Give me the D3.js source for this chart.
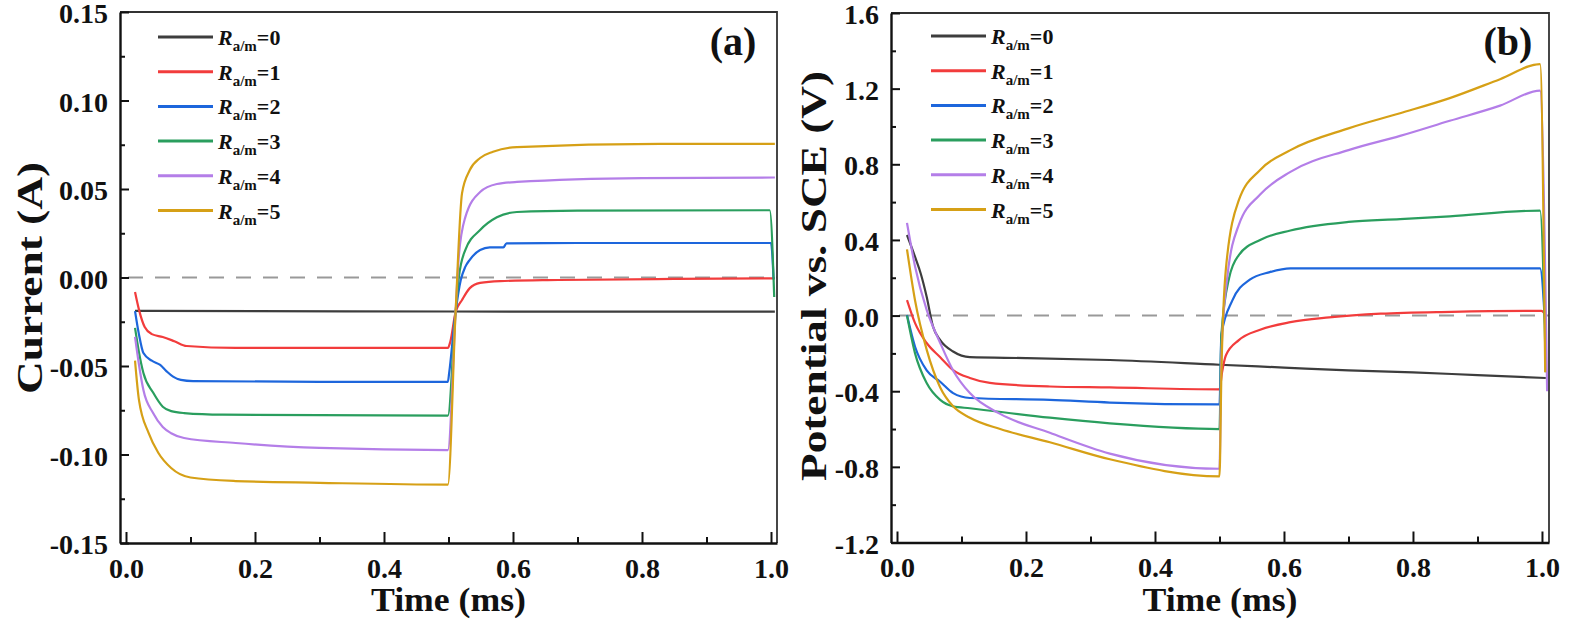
<!DOCTYPE html>
<html>
<head>
<meta charset="utf-8">
<script src="https://cdn.jsdelivr.net/npm/d3@7"></script>
<style>
  body { margin: 0; background: #fff; }
  svg text { font-family: "Liberation Serif", "Times New Roman", serif; font-weight: bold; fill: #111; }
</style>
</head>
<body>
<svg id="chart" width="1570" height="626"></svg>
<script>
// ---- data ----
const seriesLabels = ["0", "1", "2", "3", "4", "5"];
const seriesColors = ["#3d3d3d", "#f23c3c", "#1d66dc", "#2a9e5e", "#b47ee8", "#d6a016"];

// panel (a): current (A) vs time (ms)
const curA0 = [[0.014,-0.0188],[0.2,-0.019],[0.5,-0.0192],[0.7,-0.0193],[1.006,-0.0193]];
const curA1 = [[0.014,-0.0082],[0.02,-0.018],[0.029,-0.028],[0.04,-0.032],[0.057,-0.0336],[0.075,-0.036],[0.094,-0.0387],[0.17,-0.0398],[0.3,-0.0398],[0.499,-0.0398],[0.503,-0.036],[0.511,-0.0195],[0.521,-0.0127],[0.533,-0.006],[0.549,-0.003],[0.58,-0.002],[0.67,-0.0014],[0.85,-0.0008],[1.006,-0.0005]];
const curA2 = [[0.014,-0.019],[0.02,-0.032],[0.027,-0.0427],[0.04,-0.047],[0.053,-0.0494],[0.063,-0.053],[0.073,-0.056],[0.085,-0.0578],[0.104,-0.0585],[0.3,-0.059],[0.499,-0.059],[0.501,-0.054],[0.511,-0.0195],[0.519,-0.0014],[0.526,0.006],[0.533,0.01],[0.549,0.0155],[0.564,0.017],[0.585,0.017],[0.59,0.0193],[0.7,0.0195],[1.0,0.0195],[1.004,-0.001]];
const curA3 = [[0.014,-0.0285],[0.02,-0.042],[0.027,-0.054],[0.042,-0.065],[0.057,-0.073],[0.07,-0.0755],[0.09,-0.0766],[0.15,-0.0775],[0.499,-0.078],[0.511,-0.0195],[0.516,0.0],[0.526,0.0155],[0.549,0.0268],[0.575,0.034],[0.606,0.037],[0.7,0.0378],[0.998,0.038],[1.005,-0.011]];
const curA4 = [[0.014,-0.0336],[0.02,-0.049],[0.027,-0.0636],[0.042,-0.0766],[0.057,-0.0845],[0.07,-0.088],[0.09,-0.0907],[0.17,-0.0935],[0.3,-0.0963],[0.499,-0.0975],[0.511,-0.0195],[0.516,0.012],[0.526,0.034],[0.549,0.0483],[0.575,0.0528],[0.606,0.054],[0.8,0.0562],[1.006,0.0565]];
const curA5 = [[0.014,-0.047],[0.02,-0.069],[0.035,-0.0878],[0.05,-0.099],[0.07,-0.1076],[0.1,-0.113],[0.17,-0.115],[0.3,-0.116],[0.499,-0.117],[0.511,-0.0195],[0.521,0.0477],[0.533,0.0607],[0.549,0.0675],[0.569,0.071],[0.606,0.0737],[0.828,0.0755],[1.006,0.0755]];

// panel (b): potential vs. SCE (V) vs time (ms)
const curB0 = [[0.0155,0.426],[0.028,0.31],[0.037,0.22],[0.046,0.1],[0.056,-0.06],[0.067,-0.13],[0.087,-0.19],[0.113,-0.22],[0.2,-0.225],[0.33,-0.235],[0.5,-0.26],[0.6,-0.275],[0.7,-0.29],[0.8,-0.3],[0.9,-0.315],[1.006,-0.33]];
const curB1 = [[0.0155,0.082],[0.028,-0.04],[0.046,-0.145],[0.067,-0.22],[0.087,-0.288],[0.113,-0.33],[0.144,-0.356],[0.237,-0.375],[0.33,-0.38],[0.5,-0.39],[0.504,-0.3],[0.51,-0.21],[0.53,-0.13],[0.563,-0.075],[0.61,-0.035],[0.67,-0.01],[0.75,0.01],[0.86,0.02],[0.999,0.025],[1.006,0.0]];
const curB2 = [[0.0155,0.003],[0.028,-0.165],[0.046,-0.29],[0.067,-0.35],[0.087,-0.41],[0.113,-0.436],[0.237,-0.446],[0.33,-0.46],[0.5,-0.47],[0.503,-0.1],[0.52,0.08],[0.547,0.19],[0.578,0.23],[0.61,0.25],[0.8,0.25],[0.997,0.25],[1.006,-0.12]];
const curB3 = [[0.0155,0.0],[0.028,-0.2],[0.046,-0.357],[0.067,-0.446],[0.087,-0.48],[0.113,-0.49],[0.237,-0.54],[0.33,-0.57],[0.5,-0.6],[0.503,-0.1],[0.515,0.2],[0.53,0.32],[0.563,0.4],[0.61,0.45],[0.7,0.495],[0.78,0.51],[0.857,0.525],[0.997,0.555],[1.006,-0.3]];
const curB4 = [[0.0155,0.49],[0.028,0.26],[0.046,0.03],[0.067,-0.145],[0.087,-0.29],[0.113,-0.41],[0.16,-0.52],[0.237,-0.62],[0.33,-0.73],[0.5,-0.81],[0.503,-0.2],[0.512,0.2],[0.53,0.48],[0.563,0.64],[0.61,0.76],[0.7,0.875],[0.78,0.95],[0.857,1.03],[0.935,1.11],[0.997,1.19],[1.008,-0.4]];
const curB5 = [[0.0155,0.35],[0.028,0.08],[0.046,-0.18],[0.067,-0.38],[0.087,-0.48],[0.113,-0.54],[0.16,-0.6],[0.237,-0.67],[0.33,-0.76],[0.5,-0.85],[0.503,-0.3],[0.51,0.25],[0.53,0.61],[0.563,0.77],[0.61,0.875],[0.7,0.99],[0.78,1.07],[0.857,1.15],[0.935,1.25],[0.997,1.33],[1.005,-0.3]];

const xMajor = [0, 0.2, 0.4, 0.6, 0.8, 1.0];
const xMinor = [0.1, 0.3, 0.5, 0.7, 0.9];
const yMajorA = [-0.15, -0.10, -0.05, 0.00, 0.05, 0.10, 0.15];
const yMinorA = [-0.125, -0.075, -0.025, 0.025, 0.075, 0.125];
const yMajorB = [-1.2, -0.8, -0.4, 0.0, 0.4, 0.8, 1.2, 1.6];
const yMinorB = [-1.0, -0.6, -0.2, 0.2, 0.6, 1.0, 1.4];

const svg = d3.select("#chart");

// plain hyphen for negatives, as in the original figure
const fmt = spec => v => d3.format(spec)(v).replace("\u2212", "-");

function drawPanel(cfg) {
  const x = d3.scaleLinear().domain(cfg.xDomain).range([cfg.left, cfg.right]);
  const y = d3.scaleLinear().domain(cfg.yDomain).range([cfg.bottom, cfg.top]);
  const g = svg.append("g");

  g.append("clipPath").attr("id", cfg.id + "clip")
    .append("rect")
    .attr("x", cfg.left).attr("y", cfg.top)
    .attr("width", cfg.right - cfg.left).attr("height", cfg.bottom - cfg.top);

  // zero reference line
  g.append("line")
    .attr("x1", cfg.left + 8).attr("x2", cfg.right)
    .attr("y1", y(0)).attr("y2", y(0))
    .attr("stroke", "#999").attr("stroke-width", 2)
    .attr("stroke-dasharray", "15,12");

  // curves
  const line = d3.line().x(d => x(d[0])).y(d => y(d[1])).curve(d3.curveMonotoneX);
  g.append("g").attr("clip-path", `url(#${cfg.id}clip)`)
    .selectAll("path")
    .data(cfg.series)
    .join("path")
    .attr("d", line)
    .attr("fill", "none")
    .attr("stroke", (d, i) => seriesColors[i])
    .attr("stroke-width", 2.2)
    .attr("stroke-linejoin", "round");

  // frame (top/right)
  g.append("path")
    .attr("d", `M${cfg.left},${cfg.top}H${cfg.right}V${cfg.bottom}`)
    .attr("fill", "none").attr("stroke", "#333").attr("stroke-width", 1.8);

  // x axis
  const xAx = g.append("g").attr("transform", `translate(0,${cfg.bottom})`)
    .call(d3.axisBottom(x).tickValues(xMajor).tickFormat(fmt(".1f"))
      .tickSizeInner(-11).tickSizeOuter(0).tickPadding(15));
  g.append("g").attr("transform", `translate(0,${cfg.bottom})`)
    .call(d3.axisBottom(x).tickValues(xMinor).tickFormat("").tickSizeInner(-6).tickSizeOuter(0))
    .select(".domain").remove();

  // y axis
  const yAx = g.append("g").attr("transform", `translate(${cfg.left},0)`)
    .call(d3.axisLeft(y).tickValues(cfg.yMajor).tickFormat(fmt(cfg.yFmt))
      .tickSizeInner(-9).tickSizeOuter(0).tickPadding(12));
  g.append("g").attr("transform", `translate(${cfg.left},0)`)
    .call(d3.axisLeft(y).tickValues(cfg.yMinor).tickFormat("").tickSizeInner(-5).tickSizeOuter(0))
    .select(".domain").remove();
  yAx.selectAll("text").attr("dy", "0.38em");

  g.selectAll(".tick line").attr("stroke", "#111").attr("stroke-width", 2);
  g.selectAll(".domain").attr("stroke", "#111").attr("stroke-width", 2.4);
  [xAx, yAx].forEach(a => a.selectAll("text")
    .style("font-family", '"Liberation Serif", serif').style("font-weight", "bold")
    .style("font-size", "28px").attr("fill", "#111"));

  // axis titles
  g.append("text")
    .attr("x", (cfg.left + cfg.right) / 2).attr("y", 611)
    .attr("text-anchor", "middle").attr("font-size", 33)
    .attr("textLength", 155).attr("lengthAdjust", "spacingAndGlyphs")
    .text("Time (ms)");
  g.append("text")
    .attr("transform", `translate(${cfg.yTitleX},${cfg.yTitleY}) rotate(-90)`)
    .attr("text-anchor", "middle").attr("font-size", 36)
    .attr("textLength", cfg.yTitleLen).attr("lengthAdjust", "spacingAndGlyphs")
    .text(cfg.yTitle);

  // panel tag
  g.append("text")
    .attr("x", cfg.tagX).attr("y", 55)
    .attr("text-anchor", "middle").attr("font-size", 40)
    .text(cfg.tag);

  // legend
  const leg = g.append("g");
  seriesLabels.forEach((lab, i) => {
    const ry = cfg.legY0 + i * 34.7;
    leg.append("line")
      .attr("x1", cfg.legX).attr("x2", cfg.legX + 55)
      .attr("y1", ry).attr("y2", ry)
      .attr("stroke", seriesColors[i]).attr("stroke-width", 3);
    const t = leg.append("text").attr("x", cfg.legX + 60).attr("y", ry + 8).attr("font-size", 22);
    t.append("tspan").attr("font-style", "italic").text("R");
    t.append("tspan").attr("font-size", 15).attr("dy", 6).text("a/m");
    t.append("tspan").attr("dy", -6).text("=" + lab);
  });
}

drawPanel({
  id: "a", left: 120, right: 777, top: 12, bottom: 543,
  xDomain: [-0.0093, 1.0093], yDomain: [-0.15, 0.15],
  yMajor: yMajorA, yMinor: yMinorA, yFmt: ".2f",
  series: [curA0, curA1, curA2, curA3, curA4, curA5],
  yTitle: "Current (A)", yTitleX: 42, yTitleY: 278, yTitleLen: 232,
  tag: "(a)", tagX: 733, legX: 158, legY0: 37
});

drawPanel({
  id: "b", left: 891, right: 1549, top: 13, bottom: 542.5,
  xDomain: [-0.0093, 1.0109], yDomain: [-1.2, 1.6],
  yMajor: yMajorB, yMinor: yMinorB, yFmt: ".1f",
  series: [curB0, curB1, curB2, curB3, curB4, curB5],
  yTitle: "Potential vs. SCE (V)", yTitleX: 826, yTitleY: 276, yTitleLen: 410,
  tag: "(b)", tagX: 1508, legX: 931, legY0: 36
});
</script>
</body>
</html>
